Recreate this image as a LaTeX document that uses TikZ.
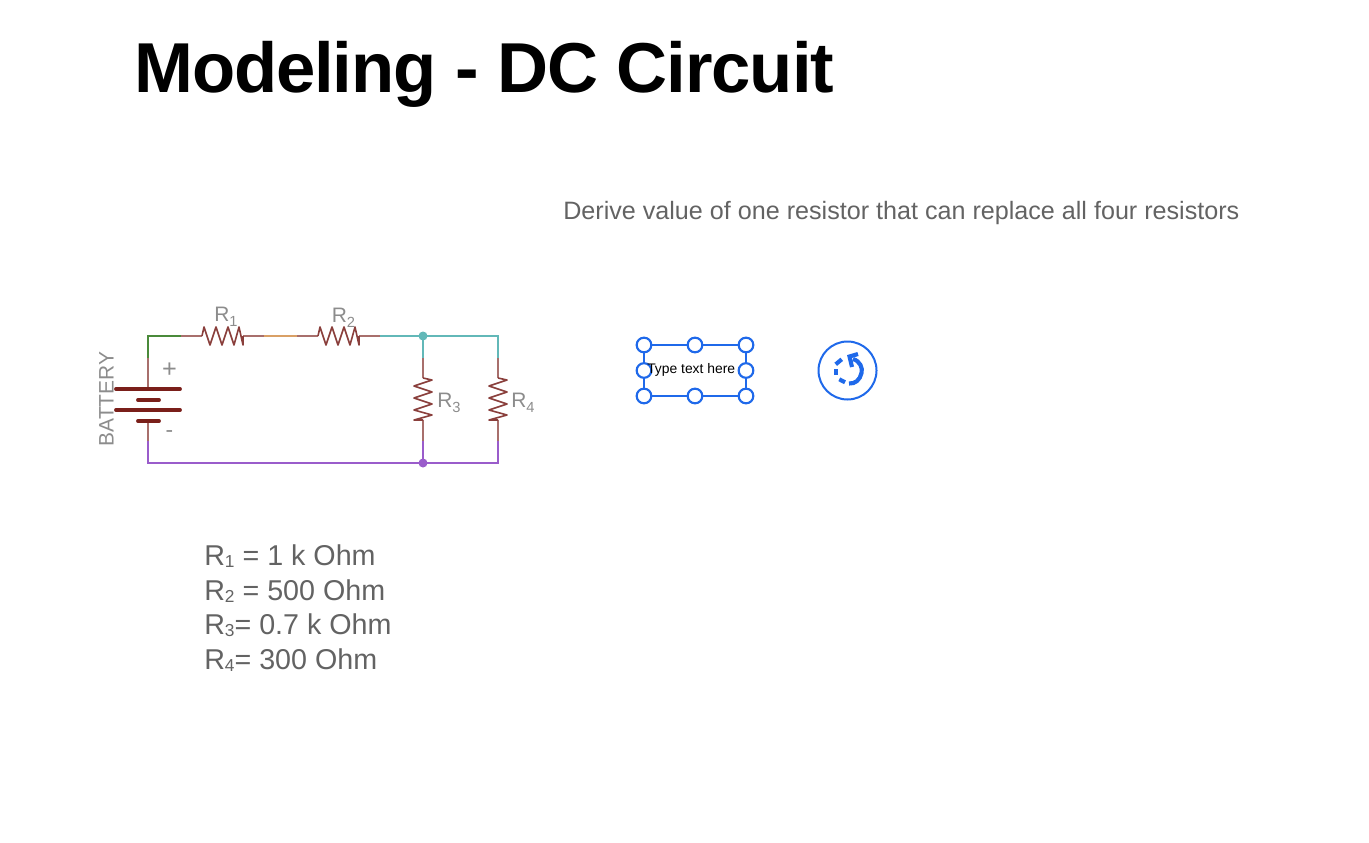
\documentclass[tikz,border=0pt]{standalone}
\usepackage{fontspec}
\setmainfont{Liberation Sans}
\definecolor{wirebrown}{HTML}{A86F6C}
\definecolor{resist}{HTML}{8A3F3C}
\definecolor{plate}{HTML}{7A1F1A}
\definecolor{wgreen}{HTML}{4A8A3A}
\definecolor{worange}{HTML}{D9A066}
\definecolor{wteal}{HTML}{62B8B8}
\definecolor{wpurple}{HTML}{9A5CCB}
\definecolor{lab}{HTML}{8C8C8C}
\definecolor{body}{HTML}{636363}
\definecolor{ui}{HTML}{1F69EA}
\tikzset{
  x=0.75pt,y=-0.75pt,
  wb/.style={draw=wirebrown,line width=1.6pt},
  wg/.style={draw=wgreen,line width=1.9pt},
  wo/.style={draw=worange,line width=1.9pt},
  wt/.style={draw=wteal,line width=2.1pt},
  wp/.style={draw=wpurple,line width=2.1pt},
  res/.style={draw=resist,line width=1.2pt,line join=round},
  plt/.style={draw=plate,line width=2.9pt,line cap=round},
  lbl/.style={text=lab,inner sep=0pt,font=\fontsize{15.7}{15.7}\selectfont},
  handle/.style={circle,draw=ui,fill=white,line width=1.6pt,minimum size=11pt,inner sep=0pt},
  vals/.style={text=body,inner sep=0pt,anchor=base west,font=\fontsize{21.5}{21.5}\selectfont},
  ico/.style={draw=ui,line width=3.1pt},
}
\newcommand{\rsub}[1]{{\fontsize{13}{13}\selectfont #1}}
\newcommand{\lsub}[1]{\raisebox{-3.5pt}{\fontsize{11}{11}\selectfont #1}}
\begin{document}
\begin{tikzpicture}
\useasboundingbox (0,0) rectangle (1369,842);
\node[inner sep=0pt,anchor=base west,font=\fontsize{53}{53}\selectfont\bfseries\addfontfeature{LetterSpace=-1.55}] (title) at (134,93) {Modeling - DC Circuit};
\node[inner sep=0pt,anchor=base west,text=body,font=\fontsize{18.85}{18.85}\selectfont] (task) at (563,219) {Derive value of one resistor that can replace all four resistors};

% circuit points
\coordinate (tl) at (148,336);
\coordinate (gs) at (148,358);
\coordinate (ge) at (181,336);
\coordinate (r1a) at (202,336);
\coordinate (r1b) at (243,336);
\coordinate (oa) at (264,336);
\coordinate (ob) at (297,336);
\coordinate (r2a) at (318,336);
\coordinate (r2b) at (359,336);
\coordinate (ta) at (380,336);
\coordinate (tj) at (423,336);
\coordinate (tr) at (498,336);
\coordinate (t3) at (423,358);
\coordinate (t4) at (498,358);
\coordinate (r3a) at (423,378);
\coordinate (r3b) at (423,420);
\coordinate (r4a) at (498,378);
\coordinate (r4b) at (498,420);
\coordinate (p3) at (423,441);
\coordinate (p4) at (498,441);
\coordinate (pb) at (148,441);
\coordinate (bl) at (148,463);
\coordinate (bj) at (423,463);
\coordinate (br) at (498,463);
\coordinate (bat1) at (148,389);
\coordinate (bat2) at (148,421);

% brown wires
\draw[wb] (gs) -- (bat1);
\draw[wb] (bat2) -- (pb);
\draw[wb] (ge) -- (r1a);
\draw[wb] (r1b) -- (oa);
\draw[wb] (ob) -- (r2a);
\draw[wb] (r2b) -- (ta);
\draw[wb] (t3) -- (r3a);
\draw[wb] (r3b) -- (p3);
\draw[wb] (t4) -- (r4a);
\draw[wb] (r4b) -- (p4);
% coloured wires
\draw[wg,line join=miter] (gs) -- (tl) -- (ge);
\draw[wo] (oa) -- (ob);
\draw[wt,line join=miter] (ta) -- (tr) -- (t4);
\draw[wt] (tj) -- (t3);
\draw[wp,line join=miter] (pb) -- (bl) -- (br) -- (p4);
\draw[wp] (bj) -- (p3);
\fill[wteal] (tj) circle (4.5);
\fill[wpurple] (bj) circle (4.5);

% resistors
\draw[res] (r1a) -- ++(2,-9) -- ++(6,18) -- ++(6,-18) -- ++(6,18) -- ++(6,-18) -- ++(6,18) -- ++(5,-18) -- ++(4,18) -- (r1b);
\draw[res] (r2a) -- ++(2,-9) -- ++(6,18) -- ++(6,-18) -- ++(6,18) -- ++(6,-18) -- ++(6,18) -- ++(5,-18) -- ++(4,18) -- (r2b);
\draw[res] (r3a) -- ++(9,2) -- ++(-18,6) -- ++(18,6) -- ++(-18,6) -- ++(18,6) -- ++(-18,6) -- ++(18,5) -- ++(-18,5) -- (r3b);
\draw[res] (r4a) -- ++(9,2) -- ++(-18,6) -- ++(18,6) -- ++(-18,6) -- ++(18,6) -- ++(-18,6) -- ++(18,5) -- ++(-18,5) -- (r4b);

% battery
\draw[plt] (116,389) -- (180,389);
\draw[plt] (138,400) -- (159,400);
\draw[plt] (116,410) -- (180,410);
\draw[plt] (138,421) -- (159,421);

% circuit labels
\node[lbl] (lr1) at (226,317) {R\lsub{1}};
\node[lbl] (lr2) at (343.5,318) {R\lsub{2}};
\node[lbl] (lr3) at (449,403) {R\lsub{3}};
\node[lbl] (lr4) at (523,403) {R\lsub{4}};
\node[lbl,rotate=90] (lbat) at (106.5,399) {BATTERY};
\node[lbl,font=\fontsize{19}{19}\selectfont] (lplus) at (169.5,370) {+};
\node[lbl,font=\fontsize{17}{17}\selectfont] (lminus) at (169.5,434) {-};

% values
\node[vals] (v1) at (204,565.5) {R\rsub{\raisebox{-1.5pt}{1}} = 1 k Ohm};
\node[vals] (v2) at (204,600) {R\rsub{\raisebox{-1.5pt}{2}} = 500 Ohm};
\node[vals] (v3) at (204,634.5) {R\rsub{\raisebox{-1.5pt}{3}}= 0.7 k Ohm};
\node[vals] (v4) at (204,669) {R\rsub{\raisebox{-1.5pt}{4}}= 300 Ohm};

% text box widget
\coordinate (h1) at (644,345);
\coordinate (h9) at (746,396);
\draw[ui,line width=1.6pt] (h1) rectangle (h9);
\foreach \n/\px/\py in {a/644/345,b/695/345,c/746/345,d/644/370.5,e/746/370.5,f/644/396,g/695/396,h/746/396}
  \node[handle] (hd\n) at (\px,\py) {};
\node[inner sep=0pt,anchor=base west,font=\fontsize{10.4}{10.4}\selectfont] (tt) at (647,373) {Type text here};

% reset icon
\node[circle,draw=ui,line width=1.5pt,minimum size=43.5pt,inner sep=0pt,fill=white] (reset) at (847.5,370.5) {};
\draw[ico] (853,359) .. controls (860,361) and (863,368) .. (861.5,373) .. controls (860,380) and (855,384) .. (849,383.5);
\draw[ico,line join=miter] (858,354) -- (849.5,356.5) -- (852,367);
\draw[ico] (835.7,364.3) -- (841.7,359.3);
\draw[ico] (835.7,369.3) -- (835.7,375);
\draw[ico] (839.3,379.3) -- (845,382.3);
\end{tikzpicture}
\end{document}
